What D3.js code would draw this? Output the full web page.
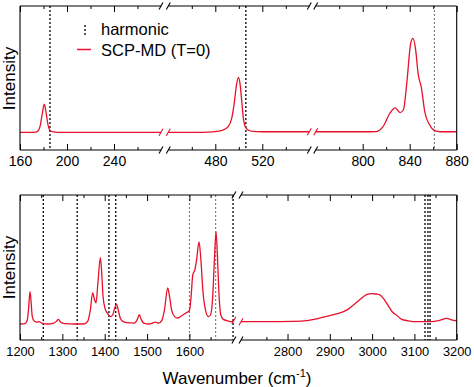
<!DOCTYPE html>
<html><head><meta charset="utf-8">
<script src="https://cdn.jsdelivr.net/npm/d3@7"></script>
<style>body{margin:0;background:#fff}svg{display:block}text{font-family:"Liberation Sans",Arial,sans-serif;fill:#000}</style>
</head><body><svg id="c" width="474" height="387"></svg>
<script>
// ---------- data ----------
const topSegments = [[160, 280], [440, 560], [760, 880]];
const topMajorTicks = [[160, 200, 240], [480, 520], [800, 840, 880]];
const topMinorTicks = [[180, 220, 260], [460, 500, 540], [780, 820, 860]];
const topHarmonic = [185.5, 506];
const topHarmonicLight = [861];
const topSpectrum = [
  [[160,0],[172,0],[175,0.01],[177,0.06],[179,0.2],[180.7,0.30],[182.3,0.2],[184,0.07],[185.5,0.02],[188,0.004],[192,0],[280,0]],
  [[440,0],[470,0],[478,0.005],[486,0.02],[491,0.06],[494,0.15],[496,0.3],[498,0.5],[499.7,0.585],[501,0.52],[502.5,0.33],[504,0.14],[505.5,0.06],[508,0.025],[512,0.01],[520,0.006],[560,0.006]],
  [[760,0.006],[800,0.006],[811.6,0.008],[817.3,0.06],[823,0.2],[827.6,0.26],[831.8,0.21],[834.7,0.24],[837.5,0.52],[840.9,0.95],[842.8,1.0],[845.1,0.875],[847.1,0.63],[850,0.47],[852.8,0.22],[857,0.078],[861.3,0.017],[866,0.006],[880,0.006]]
];

const botSegments = [[1200, 1705], [2690, 3200]];
const botMajorTicks = [[1200, 1300, 1400, 1500, 1600], [2800, 2900, 3000, 3100, 3200]];
const botMinorTicks = [[1250, 1350, 1450, 1550, 1650], [2750, 2850, 2950, 3050, 3150]];
const botHarmonic = [1255, 1335, 1410, 1426, 1703, 3125, 3132, 3137];
const botHarmonicLight = [1600, 1662];
const botSpectrum = [
  [[1200,0],[1212,0.005],[1217,0.04],[1220,0.15],[1223.6,0.35],[1226,0.25],[1229,0.08],[1234,0.03],[1240,0.02],[1245,0.025],[1252,0.01],[1265,0],[1280,0.01],[1286,0.03],[1290.5,0.05],[1296,0.02],[1305,0.005],[1330,0],[1350,0],[1360,0.03],[1366,0.15],[1371.6,0.34],[1375,0.28],[1379.5,0.23],[1384,0.45],[1389.7,0.72],[1393,0.55],[1396,0.3],[1400.7,0.17],[1406,0.12],[1412.5,0.08],[1419,0.1],[1424,0.18],[1428.3,0.21],[1432,0.15],[1437,0.06],[1444,0.025],[1452,0.015],[1470,0.01],[1477,0.05],[1481.7,0.1],[1486,0.05],[1492,0.01],[1505,0],[1520,0.02],[1527,0.01],[1535,0.04],[1541,0.15],[1548.7,0.39],[1553,0.3],[1558,0.15],[1565,0.08],[1572,0.065],[1582,0.09],[1592,0.12],[1600,0.145],[1604,0.3],[1607.8,0.53],[1613,0.59],[1617,0.7],[1622.7,0.89],[1627,0.7],[1632,0.35],[1638,0.15],[1644.7,0.08],[1650,0.1],[1655,0.3],[1659,0.7],[1662.8,1.0],[1666,0.75],[1669,0.4],[1674,0.1],[1680,0.05],[1690,0.035],[1700,0.025],[1705,0.04]],
  [[2690,0.025],[2750,0.025],[2812,0.028],[2850,0.04],[2873,0.06],[2900,0.09],[2920,0.115],[2940,0.15],[2951.5,0.19],[2965,0.24],[2975,0.28],[2988,0.32],[2999,0.33],[3010,0.325],[3018.5,0.315],[3028,0.27],[3038,0.2],[3048,0.13],[3058,0.095],[3070,0.05],[3085.6,0.035],[3100,0.025],[3117,0.025],[3140,0.025],[3160,0.04],[3176,0.06],[3188,0.045],[3200,0.035]]
];

const legendLabels = ["harmonic", "SCP-MD (T=0)"];
const xTitle = "Wavenumber (cm";
const yTitle = "Intensity";

// ---------- drawing ----------
const svg = d3.select("#c");
const RED = "#e8102a";
const L = 20, R = 456.7;

function panel(cfg) {
  const g = svg.append("g");
  const xs = cfg.segments.map((d, i) => d3.scaleLinear().domain(d).range(cfg.ranges[i]));
  const y = d3.scaleLinear().domain([0, 1]).range(cfg.yr);
  const segOf = v => cfg.segments.findIndex(d => v >= d[0] && v <= d[1]);
  const X = v => xs[segOf(v)](v);

  // harmonic lines
  cfg.harm.forEach(v => g.append("line").attr("x1", X(v)).attr("x2", X(v)).attr("y1", cfg.top).attr("y2", cfg.bottom)
    .attr("stroke", "#000").attr("stroke-width", 1.3).attr("stroke-dasharray", "2,2"));
  cfg.harmLight.forEach(v => g.append("line").attr("x1", X(v)).attr("x2", X(v)).attr("y1", cfg.top).attr("y2", cfg.bottom)
    .attr("stroke", "#444").attr("stroke-width", 0.8).attr("stroke-dasharray", "2,2"));

  // spectrum
  cfg.spec.forEach((pts, i) => {
    const line = d3.line().x(d => xs[i](d[0])).y(d => y(d[1])).curve(d3.curveMonotoneX);
    g.append("path").attr("d", line(pts)).attr("fill", "none").attr("stroke", RED).attr("stroke-width", 1.3);
  });

  // axes ticks
  xs.forEach((s, i) => {
    g.append("g").attr("transform", `translate(0,${cfg.bottom})`)
      .call(d3.axisBottom(s).tickValues(cfg.major[i]).tickSize(-6).tickPadding(cfg.pad).tickFormat(d3.format("d")))
      .call(a => { a.select(".domain").remove(); a.selectAll("text").attr("font-size", cfg.fs).style("font-family", '"Liberation Sans",Arial,sans-serif'); a.selectAll("line").attr("stroke-width", 1); });
    g.append("g").attr("transform", `translate(0,${cfg.bottom})`)
      .call(d3.axisBottom(s).tickValues(cfg.minor[i]).tickSize(-3).tickFormat(""))
      .call(a => a.select(".domain").remove());
    g.append("g").attr("transform", `translate(0,${cfg.top})`)
      .call(d3.axisTop(s).tickValues(cfg.major[i]).tickSize(-6).tickFormat(""))
      .call(a => a.select(".domain").remove());
    g.append("g").attr("transform", `translate(0,${cfg.top})`)
      .call(d3.axisTop(s).tickValues(cfg.minor[i]).tickSize(-3).tickFormat(""))
      .call(a => a.select(".domain").remove());
  });
  g.selectAll(".tick text").attr("fill", "#000");

  // frame with breaks
  const ax = g.append("g").attr("stroke", "#000").attr("stroke-width", 1.1).attr("fill", "none");
  ax.append("line").attr("x1", L).attr("x2", L).attr("y1", cfg.top).attr("y2", cfg.bottom);
  ax.append("line").attr("x1", R).attr("x2", R).attr("y1", cfg.top).attr("y2", cfg.bottom);
  [cfg.top, cfg.bottom].forEach(yy => cfg.ranges.forEach(r => ax.append("line").attr("x1", r[0]).attr("x2", r[1]).attr("y1", yy).attr("y2", yy)));

  // break marks
  const slash = (x0, yy, col) => g.append("line").attr("x1", x0 - 2).attr("x2", x0 + 2).attr("y1", yy + 3.5).attr("y2", yy - 3.5)
    .attr("stroke", col).attr("stroke-width", 1.1);
  for (let i = 0; i < cfg.ranges.length - 1; i++) {
    const xa = cfg.ranges[i][1], xb = cfg.ranges[i + 1][0];
    [cfg.top, cfg.bottom].forEach(yy => { slash(xa, yy, "#000"); slash(xb, yy, "#000"); });
    const ya = y(cfg.spec[i][cfg.spec[i].length - 1][1]);
    const yb = y(cfg.spec[i + 1][0][1]);
    slash(xa, ya, RED); slash(xb, yb, RED);
  }

  // y title
  g.append("text").attr("transform", `translate(15,${cfg.ymid}) rotate(-90)`).attr("text-anchor", "middle")
    .attr("font-size", 17).text(yTitle);
  return g;
}

panel({
  segments: topSegments, ranges: [[L, 161], [168.3, 309.3], [315.7, R]],
  yr: [132.3, 38.3], top: 6, bottom: 150, major: topMajorTicks, minor: topMinorTicks,
  harm: topHarmonic, harmLight: topHarmonicLight, spec: topSpectrum, fs: 14, pad: 6.5, ymid: 78.5
});
panel({
  segments: botSegments, ranges: [[L, 233.9], [241, R]],
  yr: [324, 231.7], top: 195, bottom: 340, major: botMajorTicks, minor: botMinorTicks,
  harm: botHarmonic, harmLight: botHarmonicLight, spec: botSpectrum, fs: 12.8, pad: 7, ymid: 267.5
});

// legend
const lg = svg.append("g");
lg.append("line").attr("x1", 85).attr("x2", 85).attr("y1", 25).attr("y2", 36).attr("stroke", "#000").attr("stroke-width", 1.3).attr("stroke-dasharray", "2,2");
lg.append("text").attr("x", 101).attr("y", 35).attr("font-size", 16.5).text(legendLabels[0]);
lg.append("line").attr("x1", 77).attr("x2", 91).attr("y1", 49.5).attr("y2", 49.5).attr("stroke", RED).attr("stroke-width", 1.5);
lg.append("text").attr("x", 101).attr("y", 55.5).attr("font-size", 16.5).text(legendLabels[1]);

// x title
const xt = svg.append("text").attr("x", 237).attr("y", 384).attr("text-anchor", "middle").attr("font-size", 17);
xt.append("tspan").text(xTitle);
xt.append("tspan").attr("dy", -7).attr("font-size", 11).text("-1");
xt.append("tspan").attr("dy", 7).text(")");
</script></body></html>
